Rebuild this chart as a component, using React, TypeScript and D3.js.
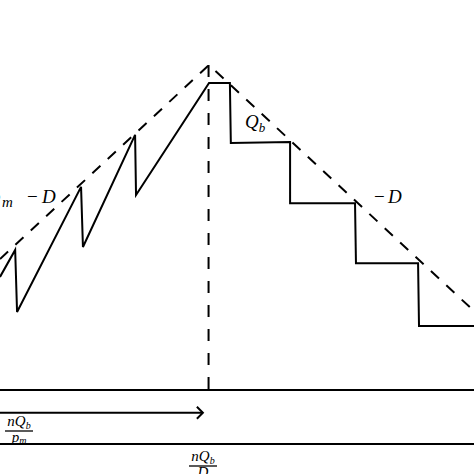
import * as d3 from 'd3'

const width = 474
const height = 474

// inventory level over time (time in % of chart width, level in % of peak)
const stockT = [0, 3.2, 3.6, 17.1, 17.5, 28.5, 28.7, 44.1, 48.5, 48.7, 61.2, 61.2, 74.9, 75.1, 88.2, 88.4, 100]
const stockQ = [34.8, 43.1, 24, 62.5, 44, 78.5, 60, 94.5, 94.5, 76, 76.3, 57.5, 57.5, 39, 39, 19.7, 19.7]

// envelope (p_m - D rising, -D falling)
const envT = [0, 44.1, 100]
const envQ = [40.3, 100, 24.3]

// time-axis rows
const peakT = 44
const axisRows = [0, -16.6]
const arrowRow = -7
const arrowEnd = 42.8

const x = d3.scaleLinear([0, 100], [0, width])
const y = d3.scaleLinear([0, 100], [390, 65])

const line = d3
  .line<[number, number]>()
  .x(d => x(d[0]))
  .y(d => y(d[1]))

const font = "'Liberation Serif', 'DejaVu Serif', serif"

function Frac({ cx, top, den, sub }: { cx: number; top: number; den: string; sub?: string }) {
  return (
    <g fontFamily={font} fontStyle="italic" fontSize={15} textAnchor="middle">
      <text x={cx} y={top}>
        nQ<tspan fontSize={10} dy={3}>b</tspan>
      </text>
      <line x1={cx - 14} x2={cx + 14} y1={top + 5} y2={top + 5} stroke="#000" strokeWidth={1.3} />
      <text x={cx} y={top + 16}>
        {den}
        {sub && (
          <tspan fontSize={10} dy={2}>
            {sub}
          </tspan>
        )}
      </text>
    </g>
  )
}

export default function App() {
  const stock = stockT.map((t, i) => [t, stockQ[i]] as [number, number])
  const env = envT.map((t, i) => [t, envQ[i]] as [number, number])
  const ax = x(arrowEnd)
  const ay = y(arrowRow)

  return (
    <svg
      width={width}
      height={height}
      viewBox={`0 0 ${width} ${height}`}
      style={{ position: 'absolute', left: 0, top: 0, background: '#fff' }}
    >
      <rect width={width} height={height} fill="#fff" />
      <path d={line(env) ?? ''} fill="none" stroke="#000" strokeWidth={2} strokeDasharray="11 10" />
      <line
        x1={x(peakT)}
        x2={x(peakT)}
        y1={y(100)}
        y2={y(-0.6)}
        stroke="#000"
        strokeWidth={2}
        strokeDasharray="12 12"
      />
      <path d={line(stock) ?? ''} fill="none" stroke="#000" strokeWidth={2} strokeLinejoin="miter" />
      {axisRows.map(r => (
        <line key={r} x1={0} x2={width} y1={y(r)} y2={y(r)} stroke="#000" strokeWidth={2} />
      ))}
      <line x1={0} x2={ax} y1={ay} y2={ay} stroke="#000" strokeWidth={2} />
      <path d={`M${ax - 6},${ay - 6}L${ax},${ay}L${ax - 6},${ay + 6}`} fill="none" stroke="#000" strokeWidth={2} />

      <g fontFamily={font} fontStyle="italic" fontSize={19}>
        <text y={203}>
          <tspan x={-9}>p</tspan>
          <tspan x={2} fontSize={15} dy={4}>m</tspan>
          <tspan x={27} dy={-4} fontStyle="normal">−</tspan>
          <tspan x={42}>D</tspan>
        </text>
        <text x={245} y={128}>
          Q<tspan fontSize={13} dy={4}>b</tspan>
        </text>
        <text y={203}>
          <tspan x={374} fontStyle="normal">−</tspan>
          <tspan x={388}>D</tspan>
        </text>
      </g>

      <Frac cx={19} top={426} den="p" sub="m" />
      <Frac cx={203} top={461} den="D" />
    </svg>
  )
}
